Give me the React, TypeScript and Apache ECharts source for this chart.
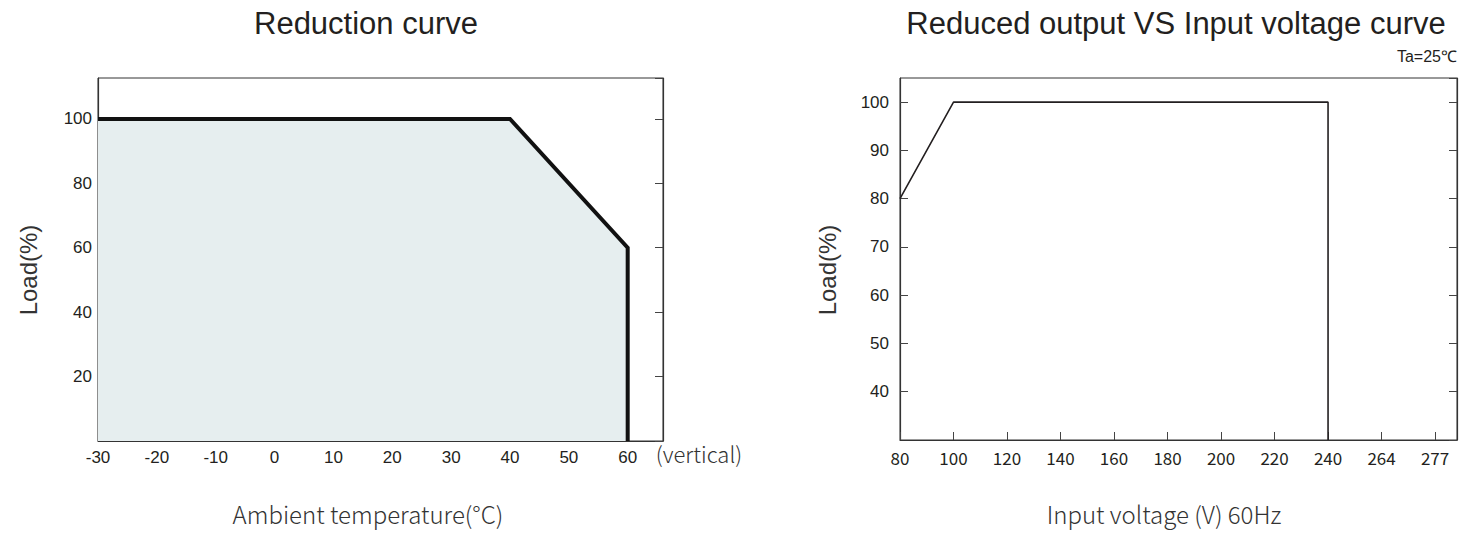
import React, { useEffect, useRef } from "react";
import * as echarts from "echarts";

// Derating vs ambient temperature
const deratingTemp = [-30, 40, 60, 60];
const deratingLoad = [100, 100, 60, 0];

// Output vs input voltage (ticks are evenly spaced labels, not a linear scale)
const voltageTicks = ["80", "100", "120", "140", "160", "180", "200", "220", "240", "264", "277"];
const inputVoltage = [80, 100, 240, 240];
const inputLoad = [80, 100, 100, 30];

const INK = "#231f20";
const SANS = "'Liberation Sans', Arial, Helvetica, sans-serif";
const HUMANIST = "'Noto Sans CJK SC', 'Noto Sans', sans-serif";

const frameAxisLine = { show: true, onZero: false, lineStyle: { color: "#333", width: 1.2 } };
const innerTick = { show: true, inside: true, length: 8, lineStyle: { color: "#444", width: 1 } };

export default function App() {
  const ref = useRef<HTMLDivElement>(null);

  useEffect(() => {
    if (!ref.current) return;
    const chart = echarts.init(ref.current, undefined, { renderer: "svg" });

    const voltageIndex = (v: number) => voltageTicks.indexOf(String(v));

    chart.setOption({
      animation: false,
      backgroundColor: "#fff",
      grid: [
        { left: 98, top: 78, width: 565, height: 363, show: true, borderColor: "#333", borderWidth: 1, containLabel: false },
        { left: 900, top: 78, width: 557, height: 362, show: true, borderColor: "#333", borderWidth: 1, containLabel: false },
      ],
      xAxis: [
        {
          type: "value",
          gridIndex: 0,
          min: -30,
          max: 66,
          interval: 10,
          axisLine: frameAxisLine,
          axisTick: innerTick,
          splitLine: { show: false },
          axisLabel: { show: true, showMaxLabel: false, margin: 8, fontSize: 17, fontFamily: SANS, color: INK },
        },
        {
          type: "value",
          gridIndex: 1,
          min: 0,
          max: 10.41,
          interval: 1,
          axisLine: frameAxisLine,
          axisTick: innerTick,
          splitLine: { show: false },
          axisLabel: {
            show: true,
            showMaxLabel: false,
            margin: 9,
            fontSize: 17,
            fontFamily: HUMANIST,
            color: INK,
            formatter: (v: number) => voltageTicks[Math.round(v)] ?? "",
          },
        },
      ],
      yAxis: [
        {
          type: "value",
          gridIndex: 0,
          min: 0,
          max: 112.7,
          interval: 20,
          axisLine: frameAxisLine,
          axisTick: innerTick,
          splitLine: { show: false },
          axisLabel: { showMinLabel: false, showMaxLabel: false, margin: 6, fontSize: 17, fontFamily: SANS, color: INK },
        },
        {
          type: "value",
          gridIndex: 0,
          position: "right",
          min: 0,
          max: 112.7,
          interval: 20,
          axisLine: frameAxisLine,
          axisTick: innerTick,
          splitLine: { show: false },
          axisLabel: { show: false },
        },
        {
          type: "value",
          gridIndex: 1,
          min: 30,
          max: 105,
          interval: 10,
          axisLine: frameAxisLine,
          axisTick: innerTick,
          splitLine: { show: false },
          axisLabel: { showMinLabel: false, showMaxLabel: false, margin: 11, fontSize: 17, fontFamily: SANS, color: INK },
        },
        {
          type: "value",
          gridIndex: 1,
          position: "right",
          min: 30,
          max: 105,
          interval: 10,
          axisLine: frameAxisLine,
          axisTick: innerTick,
          splitLine: { show: false },
          axisLabel: { show: false },
        },
      ],
      series: [
        {
          type: "line",
          xAxisIndex: 0,
          yAxisIndex: 0,
          data: deratingTemp.map((t, i) => [t, deratingLoad[i]]),
          symbol: "none",
          lineStyle: { color: "#111", width: 4, join: "miter" },
          areaStyle: { color: "#e6eeef", opacity: 1 },
          z: 1,
        },
        {
          type: "line",
          xAxisIndex: 1,
          yAxisIndex: 2,
          data: inputVoltage.map((v, i) => [voltageIndex(v), inputLoad[i]]),
          symbol: "none",
          lineStyle: { color: INK, width: 1.6 },
        },
      ],
      graphic: [
        { type: "text", x: 366, y: 23, style: { text: "Reduction curve", font: `31px ${SANS}`, fill: INK, align: "center", verticalAlign: "middle" } },
        { type: "text", x: 1176, y: 23, style: { text: "Reduced output VS Input voltage curve", font: `31px ${SANS}`, fill: INK, align: "center", verticalAlign: "middle" } },
        { type: "text", x: 1457, y: 56, style: { text: "Ta=25℃", font: `16px ${SANS}`, fill: INK, align: "right", verticalAlign: "middle" } },
        { type: "text", x: 28, y: 270, rotation: Math.PI / 2, style: { text: "Load(%)", font: `24px ${SANS}`, fill: "#333", align: "center", verticalAlign: "middle" } },
        { type: "text", x: 827, y: 270, rotation: Math.PI / 2, style: { text: "Load(%)", font: `24px ${SANS}`, fill: "#333", align: "center", verticalAlign: "middle" } },
        { type: "text", x: 368, y: 513, style: { text: "Ambient temperature(°C)", font: `300 24px ${HUMANIST}`, fill: "#333", align: "center", verticalAlign: "middle" } },
        { type: "text", x: 1164, y: 513, style: { text: "Input voltage (V) 60Hz", font: `300 24px ${HUMANIST}`, fill: "#333", align: "center", verticalAlign: "middle" } },
        { type: "text", x: 699, y: 453, style: { text: "(vertical)", font: `300 22px ${HUMANIST}`, fill: "#333", align: "center", verticalAlign: "middle" } },
      ],
    });

    return () => chart.dispose();
  }, []);

  return <div ref={ref} style={{ position: "fixed", left: 0, top: 0, width: 1479, height: 543 }} />;
}
